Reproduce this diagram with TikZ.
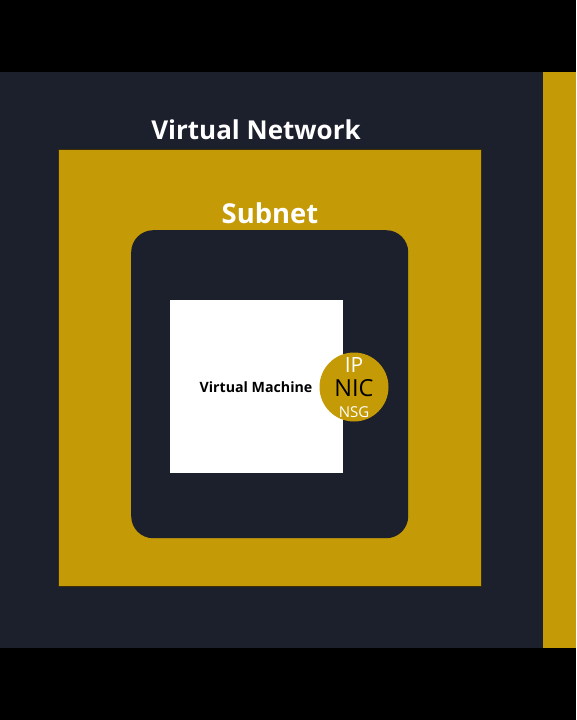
\documentclass[tikz,border=0pt]{standalone}
\usepackage{fontspec}
\setmainfont{Open Sans}
\definecolor{navy}{HTML}{1C1F2C}
\definecolor{gold}{HTML}{C49A06}
\begin{document}
\begin{tikzpicture}[x=1pt,y=-1pt,
  title/.style={font=\bfseries\fontsize{26}{28}\selectfont, text=white, inner sep=0pt},
  small/.style={inner sep=0pt}]
\useasboundingbox (0,0) rectangle (576,720);
\fill[black] (0,0) rectangle (576,720);
\fill[navy] (0,72) rectangle (543,648);
\fill[gold] (543,72) rectangle (576,648);
\node[fill=gold, draw=black!70!gold, line width=0.6pt, minimum width=423pt, minimum height=437pt, inner sep=0pt, anchor=north west] (subnetbox) at (58,149) {};
\node[fill=navy, rounded corners=22pt, minimum width=277pt, minimum height=308pt, inner sep=0pt, anchor=north west] (vmarea) at (131,230) {};
\node[fill=white, minimum width=173pt, minimum height=173pt, inner sep=0pt, anchor=north west] (vm) at (170,300) {};
\node[font=\bfseries\fontsize{14.2}{15}\selectfont, text=black, inner sep=0pt, anchor=base] (vmlabel) at (256,392) {Virtual Machine};
\node[circle, fill=gold, minimum size=69pt, inner sep=0pt] (nic) at (354,387) {};
\node[small, text=white, font=\fontsize{21}{22}\selectfont, anchor=base] (ip) at (354,372) {IP};
\node[small, text=black, font=\fontsize{23.5}{24}\selectfont, anchor=base] (niclabel) at (354,396) {NIC};
\node[small, text=white, font=\fontsize{15}{16}\selectfont, anchor=base] (nsg) at (354,417.5) {NSG};
\node[title, anchor=base] (vnet) at (256,139.5) {Virtual Network};
\node[title, font=\bfseries\fontsize{27.4}{29}\selectfont, anchor=base] (subnet) at (270,223) {Subnet};
\end{tikzpicture}
\end{document}
